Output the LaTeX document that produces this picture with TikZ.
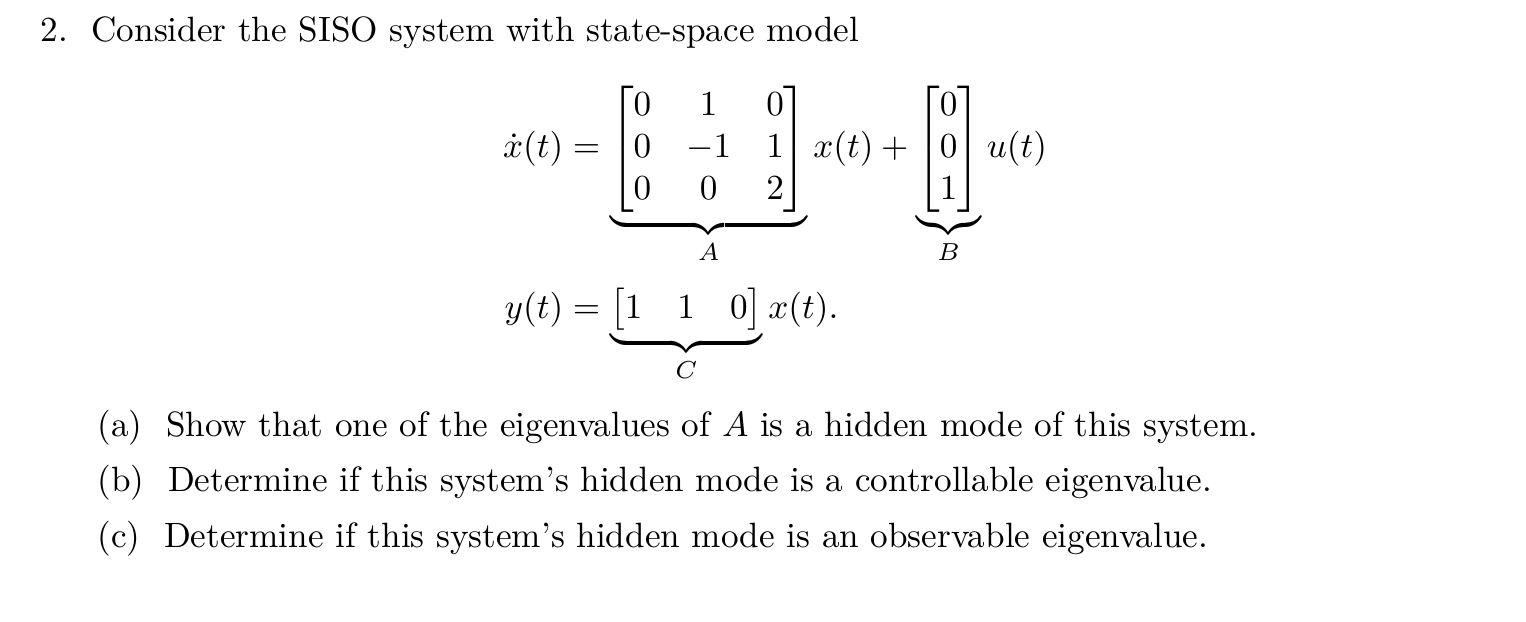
\documentclass[tikz,border=0pt]{standalone}
\usepackage{amsmath, amssymb}
\usetikzlibrary{positioning}
\begin{document}
\begin{tikzpicture}[x=0.01cm,y=-0.01cm,
  txt/.style={anchor=west,inner sep=0pt}]
\useasboundingbox (0,0) rectangle (1526,622);
\node[txt] (title) at (40,33) {2.\ \ Consider the SISO system with state-space model};
\node[inner sep=0pt] (eqs) at (775,234) {\setlength{\jot}{6pt}$\begin{aligned}
\dot x(t) &= \underbrace{\begin{bmatrix}0 & 1 & 0\\ 0 & -1 & 1\\ 0 & 0 & 2\end{bmatrix}}_{A} x(t) + \underbrace{\begin{bmatrix}0\\0\\1\end{bmatrix}}_{B} u(t)\\
y(t) &= \underbrace{\begin{bmatrix}1 & 1 & 0\end{bmatrix}}_{C} x(t).
\end{aligned}$};
\node[txt] (qa) at (97,428) {(a)\ \ Show that one of the eigenvalues of $A$ is a hidden mode of this system.};
\node[txt] (qb) at (97,483) {(b)\ \ Determine if this system's hidden mode is a controllable eigenvalue.};
\node[txt] (qc) at (97,539) {(c)\ \ Determine if this system's hidden mode is an observable eigenvalue.};
\end{tikzpicture}
\end{document}
